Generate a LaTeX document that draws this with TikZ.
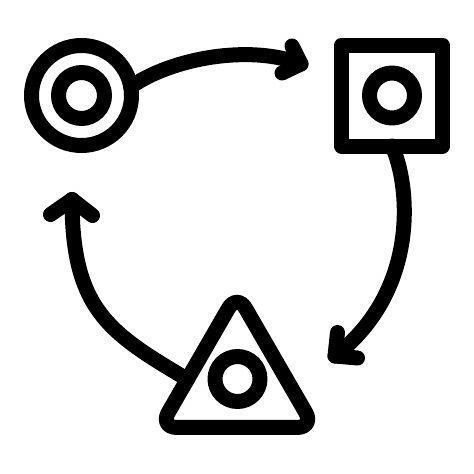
\documentclass[tikz,border=0pt]{standalone}
\usetikzlibrary{shapes.geometric}
\begin{document}
\begin{tikzpicture}[x=1pt,y=-1pt,
  stroke/.style={line width=15pt, line cap=round, line join=round},
  ring/.style={stroke, draw, circle, inner sep=0pt, outer sep=0pt},
  box/.style={stroke, draw, rectangle, inner sep=0pt, outer sep=0pt},
  tri/.style={stroke, draw, regular polygon, regular polygon sides=3, inner sep=0pt, outer sep=0pt},
  conn/.style={stroke, draw}]
\fill[white] (0,0) rectangle (474,474);
\useasboundingbox (0,0) rectangle (474,474);
% shapes
\node[ring, minimum size=100pt] (A) at (81.5,95.5) {};
\node[ring, minimum size=46pt] (Ai) at (81.5,95.5) {};
\node[box, minimum size=101pt] (B) at (392,95.5) {};
\node[ring, minimum size=45pt] (Bi) at (392,95.5) {};
\node[tri, minimum size=178.6pt, rounded corners=17.3pt] (C) at (237,382.8) {};
\node[ring, minimum size=45pt] (Ci) at (237.5,379) {};
% arrow tips and barbs
\coordinate (tAB) at (301,64);
\coordinate (uAB) at (292,46);
\coordinate (lAB) at (282,73);
\coordinate (tBC) at (335,356);
\coordinate (uBC) at (337.5,332.5);
\coordinate (lBC) at (357.5,358);
\coordinate (tCA) at (72,199.5);
\coordinate (uCA) at (50.5,214.5);
\coordinate (lCA) at (92.5,215.5);
% connectors
\draw[conn] (A.10) .. controls (172,58) and (250,44) .. (tAB);
\draw[conn] (uAB) -- (tAB) -- (lAB);
\draw[conn] (B.south) .. controls (410,185) and (420,290) .. (tBC);
\draw[conn] (uBC) -- (tBC) -- (lBC);
\draw[conn] (C.176) .. controls (109.5,333) and (72,310) .. (tCA);
\draw[conn] (uCA) -- (tCA) -- (lCA);
\end{tikzpicture}
\end{document}
